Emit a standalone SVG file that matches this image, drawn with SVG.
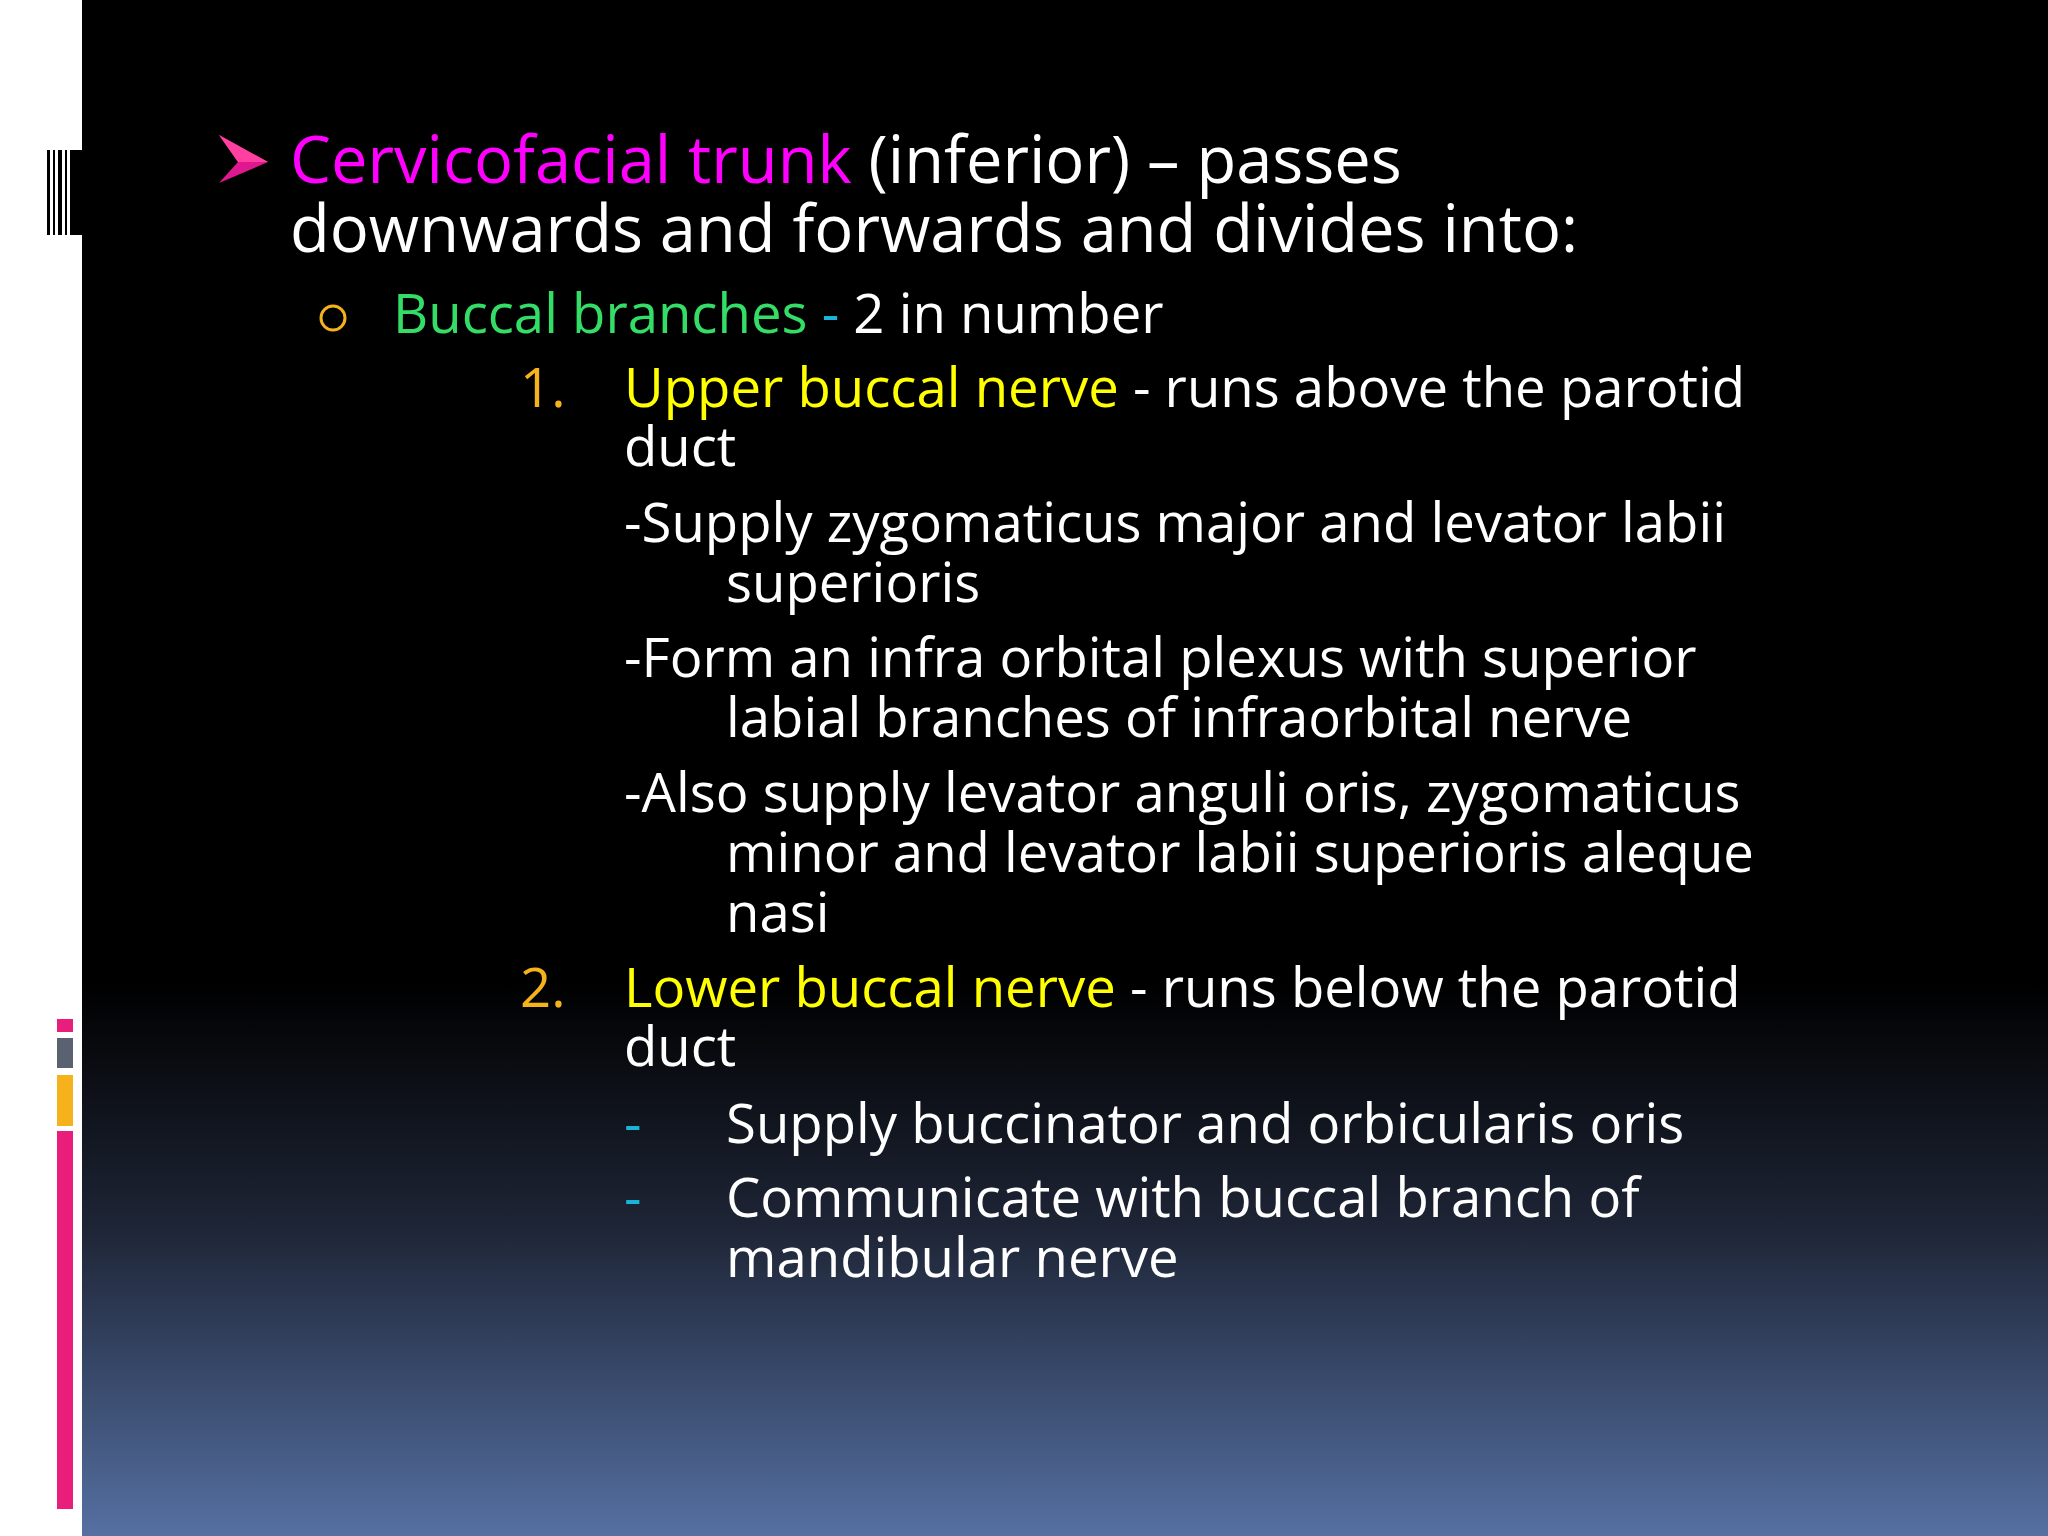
<svg xmlns="http://www.w3.org/2000/svg" width="2048" height="1536" viewBox="0 0 2048 1536">
<defs>
<linearGradient id="bg" x1="0" y1="0" x2="0" y2="1">
<stop offset="0" stop-color="#000"/><stop offset="0.64" stop-color="#000"/><stop offset="0.8" stop-color="#1e2536"/><stop offset="1" stop-color="#5570a2"/>
</linearGradient>
<style>
text{font-family:"Open Sans","Noto Sans",sans-serif;fill:#fff}
.t{font-size:65px}.s{font-size:54.5px}
.m{fill:#ff00ff}.g{fill:#33dd66}.y{fill:#ffff00}.o{fill:#f5b21a}.c{fill:#19b4d8}
</style>
</defs>
<rect width="2048" height="1536" fill="#fff"/>
<rect x="82" width="1966" height="1536" fill="url(#bg)"/>
<g id="barcode" fill="#000">
<rect x="47" y="150" width="3" height="85"/><rect x="53" y="150" width="2" height="85"/><rect x="58" y="150" width="4" height="85"/><rect x="65" y="150" width="2" height="85"/><rect x="70" y="150" width="12" height="85"/>
</g>
<g id="bars">
<rect x="57" y="1019" width="16" height="13" fill="#e91e7a"/>
<rect x="57" y="1038" width="16" height="30" fill="#5a6170"/>
<rect x="57" y="1075" width="16" height="51" fill="#f5b21a"/>
<rect x="57" y="1131" width="16" height="378" fill="#e91e7a"/>
</g>
<g id="text">
<path d="M219 135 L268 162 L219 183 L238 162 Z" fill="#e01890"/>
<path d="M219 135 L268 162 L238 162 Z" fill="#ff40a0"/>
<text class="t" x="290" y="183"><tspan class="m">Cervicofacial trunk</tspan> (inferior) – passes</text>
<text class="t" x="290" y="252">downwards and forwards and divides into:</text>
<circle cx="333" cy="318" r="12" fill="none" stroke="#f5b21a" stroke-width="3"/>
<text class="s" x="393" y="333"><tspan class="g">Buccal branches</tspan><tspan class="c"> - </tspan>2 in number</text>
<text class="s" x="520" y="407" style="fill:#f5b21a">1.</text>
<text class="s" x="624" y="407"><tspan class="y">Upper buccal nerve</tspan> - runs above the parotid</text>
<text class="s" x="624" y="466">duct</text>
<text class="s" x="624" y="542">-Supply zygomaticus major and levator labii</text>
<text class="s" x="726" y="602">superioris</text>
<text class="s" x="624" y="677">-Form an infra orbital plexus with superior</text>
<text class="s" x="726" y="737">labial branches of infraorbital nerve</text>
<text class="s" x="624" y="812">-Also supply levator anguli oris, zygomaticus</text>
<text class="s" x="726" y="872">minor and levator labii superioris aleque</text>
<text class="s" x="726" y="932">nasi</text>
<text class="s" x="520" y="1007" style="fill:#f5b21a">2.</text>
<text class="s" x="624" y="1007"><tspan class="y">Lower buccal nerve</tspan> - runs below the parotid</text>
<text class="s" x="624" y="1066">duct</text>
<text class="s" x="624" y="1143" style="fill:#19b4d8">-</text>
<text class="s" x="726" y="1143">Supply buccinator  and orbicularis oris</text>
<text class="s" x="624" y="1217" style="fill:#19b4d8">-</text>
<text class="s" x="726" y="1217">Communicate with buccal branch of</text>
<text class="s" x="726" y="1277">mandibular nerve</text>
</g>
</svg>
